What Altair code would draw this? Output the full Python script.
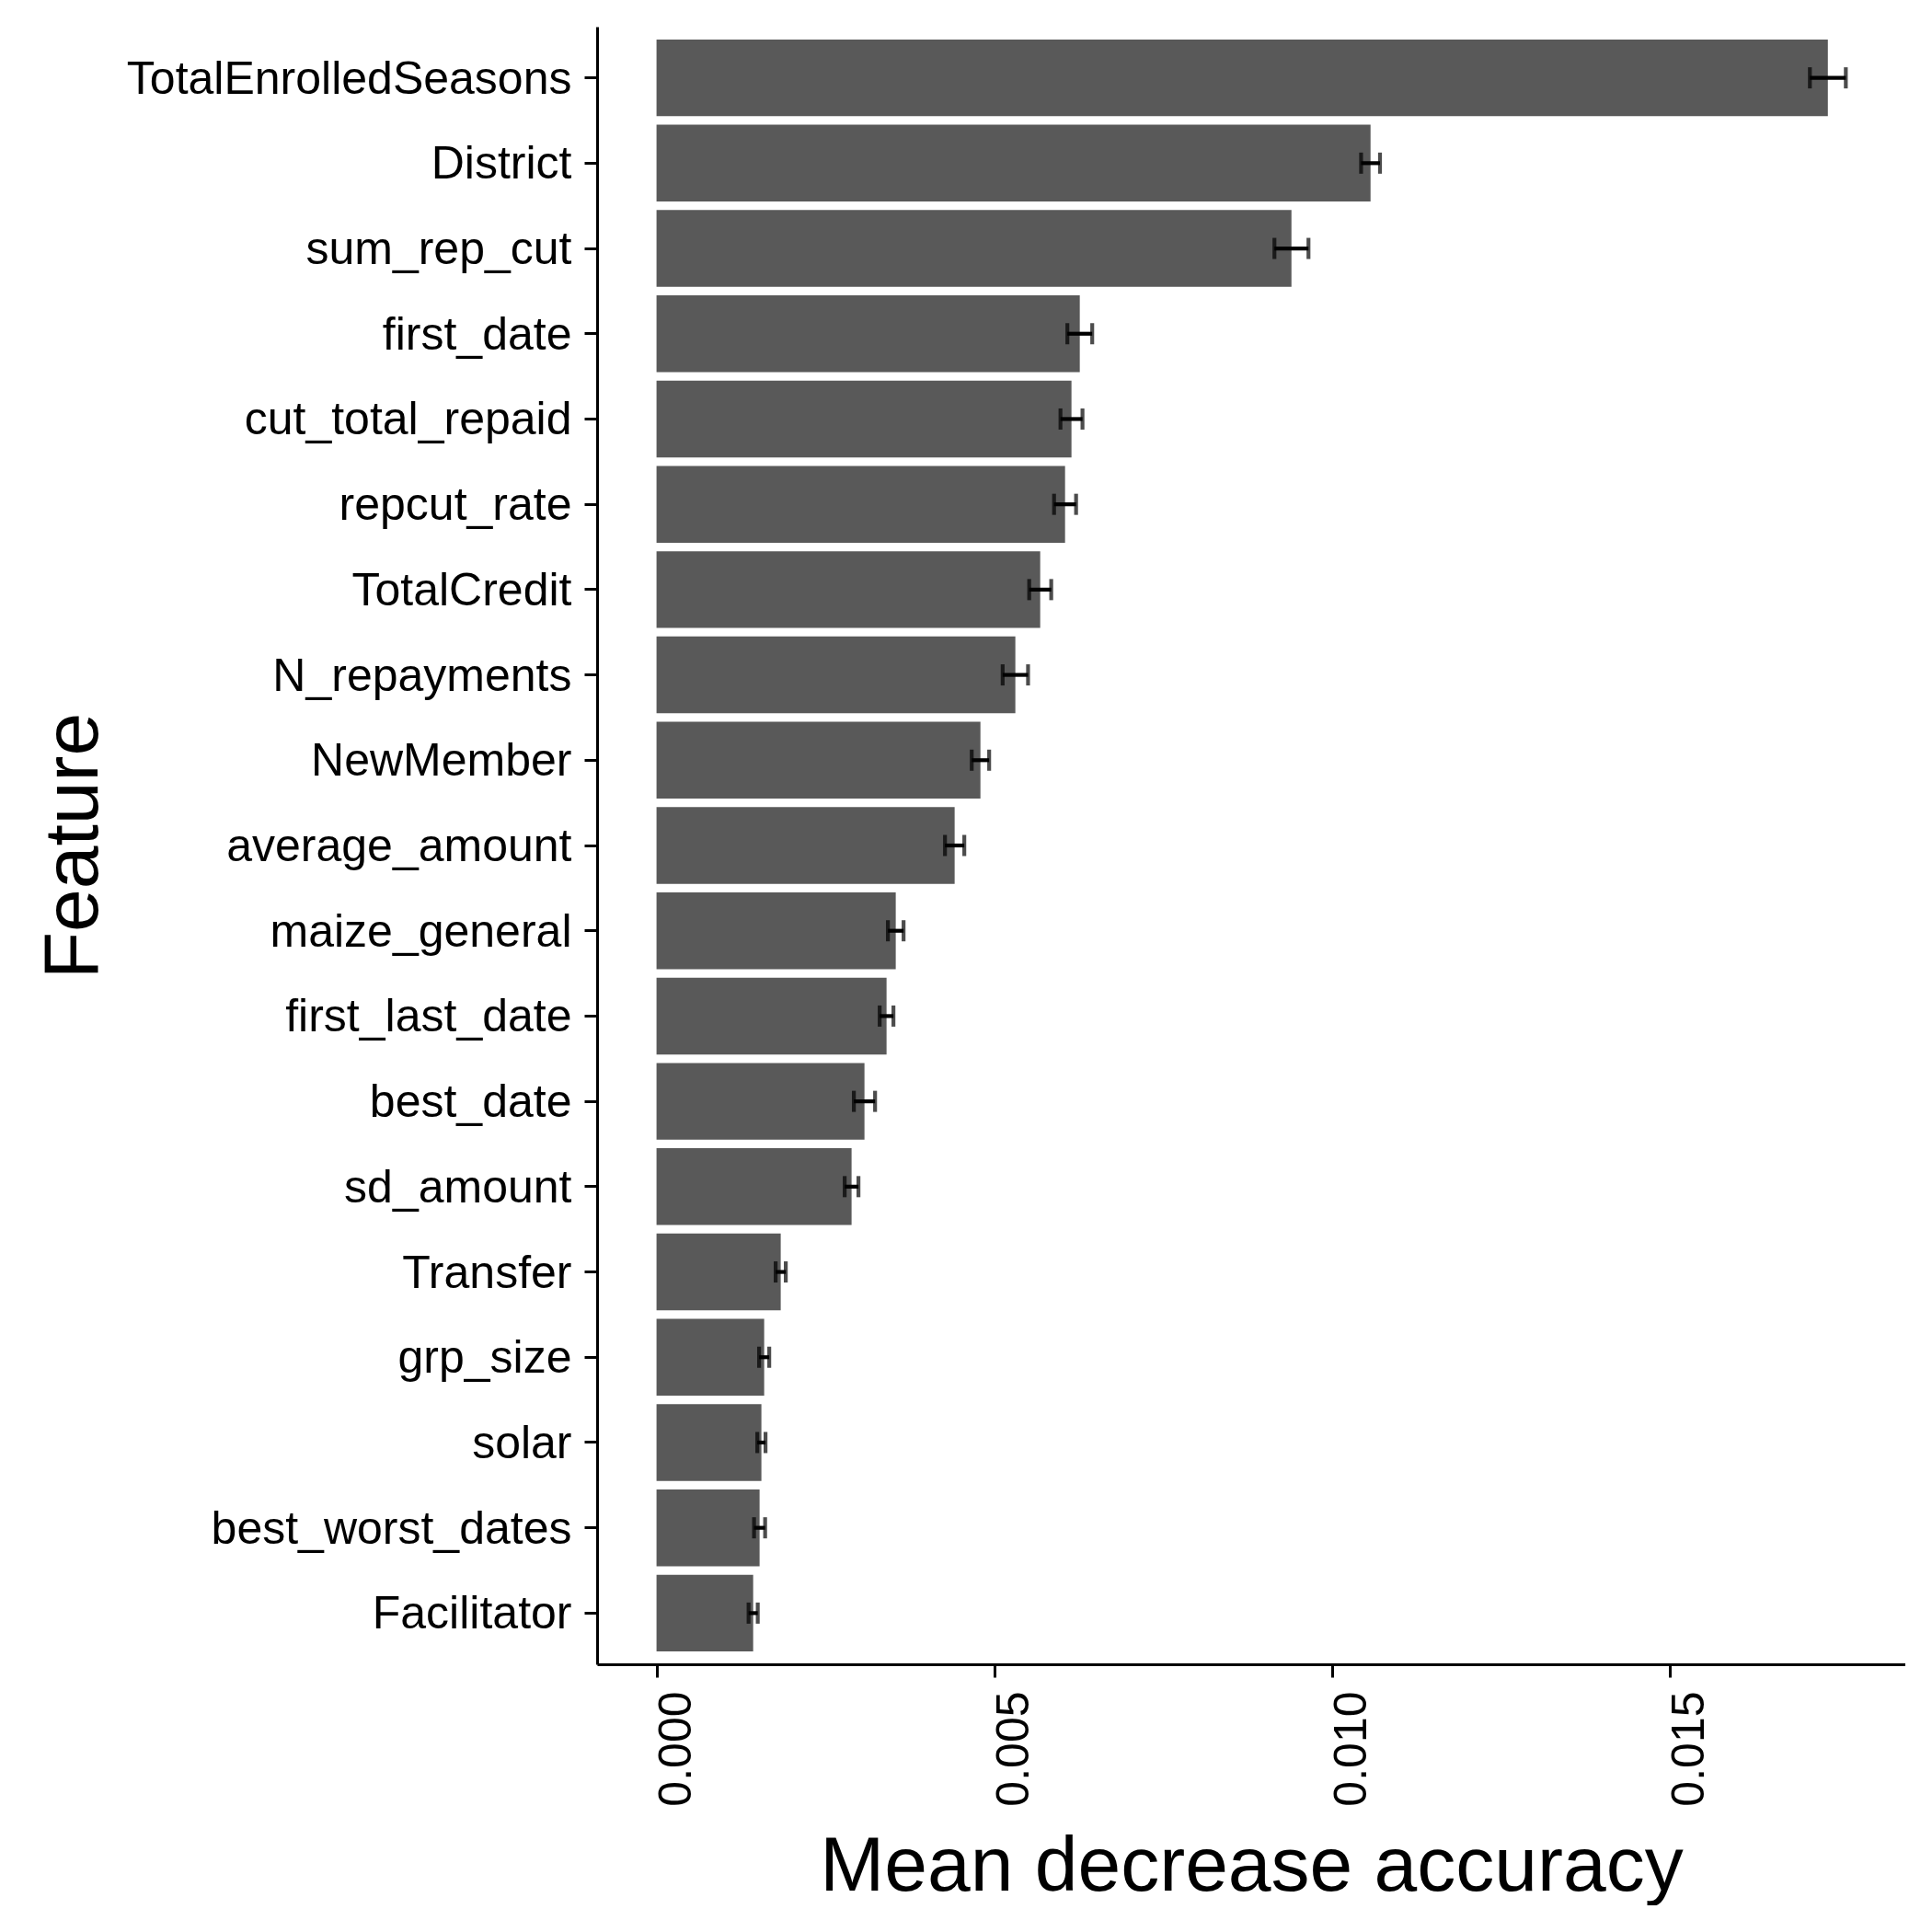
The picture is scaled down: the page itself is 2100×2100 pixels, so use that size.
import altair as alt
import pandas as pd

features = [
    "TotalEnrolledSeasons", "District", "sum_rep_cut", "first_date",
    "cut_total_repaid", "repcut_rate", "TotalCredit", "N_repayments",
    "NewMember", "average_amount", "maize_general", "first_last_date",
    "best_date", "sd_amount", "Transfer", "grp_size", "solar",
    "best_worst_dates", "Facilitator",
]
importance = [
    0.017343, 0.010572, 0.009401, 0.006267,
    0.006144, 0.006049, 0.005681, 0.005313,
    0.004796, 0.004414, 0.003542, 0.003406,
    0.003079, 0.002888, 0.001839, 0.001594, 0.001553,
    0.001526, 0.001431,
]
error = [
    0.000266, 0.000140, 0.000252, 0.000184,
    0.000163, 0.000163, 0.000163, 0.000188,
    0.000129, 0.000143, 0.000116, 0.000102,
    0.000157, 0.000102, 0.000075, 0.000075, 0.000061,
    0.000082, 0.000068,
]
x_ticks = [0.0, 0.005, 0.010, 0.015]

df = pd.DataFrame({
    "feature": features,
    "value": importance,
    "zero": [0.0] * len(features),
    "lo": [v - e for v, e in zip(importance, error)],
    "hi": [v + e for v, e in zip(importance, error)],
})

FONT = "Liberation Sans"

x_scale = alt.Scale(domain=[-0.00088, 0.01849], nice=False, zero=False)
y_scale = alt.Scale(domain=features, paddingInner=0.1, paddingOuter=0.15)

x_axis = alt.Axis(
    values=x_ticks, format=".3f", grid=False,
    labelAngle=270, labelAlign="right", labelBaseline="top",
    labelFont=FONT, labelFontSize=50, labelColor="black", labelPadding=15,
    labelOffset=-3,
    tickSize=14, tickWidth=3, tickColor="black",
    domainColor="black", domainWidth=3,
    title="Mean decrease accuracy", titleFont=FONT, titleFontSize=84,
    titleFontWeight="normal", titleColor="black",
    titleY=245, titleBaseline="alphabetic",
)
y_axis = alt.Axis(
    grid=False, labelLimit=0,
    labelFont=FONT, labelFontSize=50, labelColor="black", labelPadding=14,
    labelOffset=2,
    tickSize=14, tickWidth=3, tickColor="black",
    domainColor="black", domainWidth=3,
    title="Feature", titleFont=FONT, titleFontSize=84,
    titleFontWeight="normal", titleColor="black",
    titleAngle=270, titleX=-544, titleY=890,
    titleAlign="center", titleBaseline="alphabetic",
)

base = alt.Chart(df)

bars = base.mark_bar(color="#595959").encode(
    y=alt.Y("feature:N", sort=features, scale=y_scale, axis=y_axis),
    x=alt.X("value:Q", scale=x_scale, axis=x_axis),
    x2="zero:Q",
)

rules = base.mark_rule(color="black", strokeWidth=4.2).encode(
    y=alt.Y("feature:N", sort=features, scale=y_scale),
    x=alt.X("lo:Q", scale=x_scale),
    x2="hi:Q",
)

caps_lo = base.mark_tick(color="black", thickness=4.2, size=23).encode(
    y=alt.Y("feature:N", sort=features, scale=y_scale),
    x=alt.X("lo:Q", scale=x_scale),
)
caps_hi = base.mark_tick(color="black", thickness=4.2, size=23).encode(
    y=alt.Y("feature:N", sort=features, scale=y_scale),
    x=alt.X("hi:Q", scale=x_scale),
)

chart = alt.layer(bars, rules, caps_lo, caps_hi).properties(
    width=1422, height=1780,
    padding={"left": 30, "top": 21, "right": 0, "bottom": 0},
    background="white",
).configure_view(stroke=None)

chart.save("out.html", embed_options={"renderer": "svg", "actions": False})
